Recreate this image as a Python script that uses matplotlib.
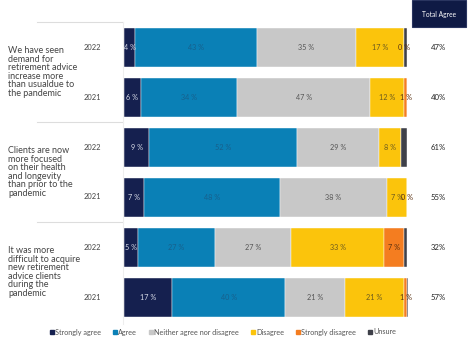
import numpy as np
import matplotlib.pyplot as plt
from matplotlib.patches import Rectangle
from matplotlib.lines import Line2D

plt.rcParams['font.family'] = ['Lato', 'DejaVu Sans']

statements = [
    "We have seen\ndemand for\nretirement advice\nincrease more\nthan usualdue to\nthe pandemic",
    "Clients are now\nmore focused\non their health\nand longevity\nthan prior to the\npandemic",
    "It was more\ndifficult to acquire\nnew retirement\nadvice clients\nduring the\npandemic",
]
years = ["2022", "2021", "2022", "2021", "2022", "2021"]

responses = ["Strongly agree", "Agree", "Neither agree nor disagree",
             "Disagree", "Strongly disagree", "Unsure"]
colors = ["#15204f", "#0a80b6", "#c8c8c8", "#fbc40c", "#f47d20", "#3e4049"]
text_colors = ["#d8dce8", "#17608c", "#555555", "#6b5a20", "#5a3010", "#ffffff"]

strongly_agree = [4, 6, 9, 7, 5, 17]
agree = [43, 34, 52, 48, 27, 40]
neither = [35, 47, 29, 38, 27, 21]
disagree = [17, 12, 8, 7, 33, 21]
strongly_disagree = [0, 1, np.nan, 0, 7, 1]
unsure = [1, 0, 2, 0, 1, 0.5]
total_agree = ["47%", "40%", "61%", "55%", "32%", "57%"]

series = [strongly_agree, agree, neither, disagree, strongly_disagree, unsure]

W, H = 474, 343
fig = plt.figure(figsize=(W / 100, H / 100), dpi=100)
fig.patch.set_facecolor("white")

# bar area: 0-100 % spans pixels 124..407
x0, x100, xr = 124, 407, 474
ytop, ybot = 22, 322
ax = fig.add_axes([x0 / W, 1 - ybot / H, (xr - x0) / W, (ybot - ytop) / H])
ax.set_xlim(0, 100 * (xr - x0) / (x100 - x0))
ax.set_ylim(5.5, -0.5)
ax.axis("off")

rows = np.arange(len(years))
left = np.zeros(len(years))
for k, vals in enumerate(series):
    v = np.nan_to_num(np.array(vals, dtype=float))
    ax.barh(rows, v, left=left, height=0.78, color=colors[k],
            edgecolor="white", linewidth=0.3)
    if k < 5:
        for r in rows:
            if np.isnan(vals[r]):
                continue
            ax.text(left[r] + v[r] / 2, r, f"{vals[r]:g} %", ha="center",
                    va="center", fontsize=5.2, color=text_colors[k])
    left += v

# total agree column
for r in rows:
    ax.text(111, r, total_agree[r], ha="center", va="center",
            fontsize=5.6, color="#222222")

fig.patches.append(Rectangle((412 / W, 1 - 27 / H), 54 / W, 27 / H,
                             transform=fig.transFigure, facecolor="#0f1a45",
                             edgecolor="#2a3560", linewidth=0.8))
fig.text(439 / W, 1 - 14 / H, "Total Agree", ha="center", va="center",
         fontsize=4.8, color="white")

# left panel: statements, years, separators
for g, txt in enumerate(statements):
    yc = 72 + g * 100
    fig.text(8 / W, 1 - yc / H, txt, ha="left", va="center", fontsize=6.5,
             color="#444444", linespacing=0.95)
    ysep = 22 + g * 100
    fig.add_artist(Line2D([37 / W, 123 / W], [1 - ysep / H, 1 - ysep / H],
                          color="#dddddd", linewidth=0.8))
for r in rows:
    yc = 47 + r * 50
    fig.text(92 / W, 1 - yc / H, years[r], ha="center", va="center",
             fontsize=5.4, color="#444444")
fig.add_artist(Line2D([123.5 / W, 123.5 / W], [1 - 22 / H, 1 - 324 / H],
                      color="#eeeeee", linewidth=0.8))

handles = [Rectangle((0, 0), 1, 1, color=c) for c in colors]
fig.legend(handles, responses, loc="center", bbox_to_anchor=(223 / W, 11 / H),
           ncol=6, frameon=False, fontsize=5.2, handlelength=0.55,
           handleheight=0.55, handletextpad=0.2, columnspacing=1.6,
           labelcolor="#555555")

fig.savefig("out.png", dpi=100)
